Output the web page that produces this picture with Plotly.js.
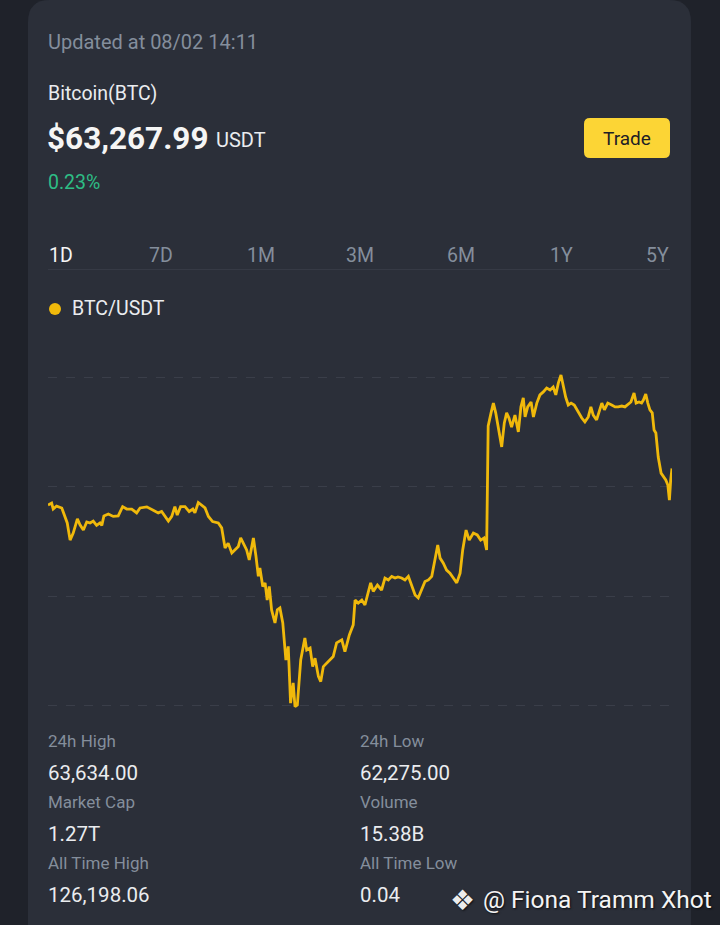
<!DOCTYPE html>
<html>
<head>
<meta charset="utf-8">
<script src="https://cdn.plot.ly/plotly-3.0.1.min.js"></script>
<style>
  html, body { margin: 0; padding: 0; background: #1f222a; }
  #chart { width: 720px; height: 925px; }
</style>
</head>
<body>
<div id="chart"></div>
<script>
// BTC/USDT price over the last 24 hours (hours since the window start)
const hours = [
  0,0.14,0.2,0.33,0.53,0.65,0.74,0.85,0.97,1.13,
  1.23,1.36,1.49,1.62,1.74,1.87,2.0,2.07,2.15,2.32,
  2.51,2.7,2.87,3.03,3.22,3.41,3.54,3.8,4.05,4.24,
  4.37,4.5,4.63,4.76,4.88,4.97,5.1,5.27,5.43,5.57,
  5.65,5.78,5.91,6.04,6.17,6.33,6.55,6.68,6.81,6.93,
  7.07,7.19,7.32,7.41,7.54,7.64,7.74,7.81,7.9,8.0,
  8.09,8.15,8.26,8.35,8.43,8.51,8.6,8.73,8.82,8.92,
  9.03,9.15,9.24,9.33,9.43,9.5,9.59,9.72,9.88,9.95,
  10.08,10.18,10.27,10.4,10.49,10.59,10.78,10.97,11.1,11.3,
  11.42,11.59,11.74,11.81,11.93,12.07,12.19,12.32,12.41,12.51,
  12.67,12.83,12.96,13.09,13.22,13.35,13.46,13.6,13.73,13.86,
  13.99,14.12,14.24,14.37,14.5,14.63,14.76,14.88,14.99,15.08,
  15.2,15.33,15.46,15.59,15.72,15.85,15.95,16.08,16.2,16.36,
  16.51,16.64,16.77,16.87,16.93,17.04,17.13,17.22,17.32,17.45,
  17.55,17.64,17.73,17.83,17.96,18.09,18.19,18.28,18.35,18.45,
  18.58,18.67,18.8,18.92,19.05,19.18,19.31,19.43,19.53,19.63,
  19.73,19.82,19.91,20.01,20.12,20.24,20.37,20.53,20.65,20.78,
  20.88,20.97,21.1,21.19,21.3,21.4,21.53,21.68,21.81,21.93,
  22.07,22.19,22.32,22.42,22.54,22.62,22.73,22.83,22.9,22.99,
  23.07,23.15,23.24,23.31,23.38,23.47,23.58,23.67,23.76,23.84,
  23.9,23.95,24.0
];
const prices = [
  63134,63141,63119,63130,63123,63094,63068,63005,63031,63083,
  63061,63042,63072,63068,63075,63059,63068,63059,63094,63101,
  63092,63094,63128,63119,63119,63105,63123,63127,63116,63105,
  63110,63092,63075,63092,63128,63097,63128,63128,63110,63119,
  63105,63143,63134,63123,63092,63073,63068,63050,62976,62994,
  62958,62969,62982,63013,62987,62969,62932,62969,63013,62945,
  62872,62903,62835,62848,62785,62835,62749,62701,62749,62756,
  62701,62565,62615,62407,62481,62394,62400,62565,62646,62602,
  62609,62541,62572,62505,62486,62541,62560,62578,62628,62639,
  62596,62657,62694,62785,62774,62785,62767,62822,62848,62817,
  62840,62822,62866,62859,62872,62866,62870,62866,62859,62872,
  62835,62804,62793,62822,62853,62859,62872,62932,62987,62939,
  62921,62895,62884,62866,62848,62884,62969,63042,63005,63031,
  63024,63005,63013,62969,63424,63472,63508,63472,63420,63347,
  63435,63472,63453,63420,63464,63402,63494,63527,63457,63494,
  63512,63457,63508,63538,63549,63563,63556,63567,63538,63582,
  63611,63567,63530,63501,63508,63501,63479,63453,63439,63457,
  63494,63464,63446,63472,63508,63483,63508,63501,63494,63494,
  63497,63494,63505,63512,63545,63508,63512,63508,63519,63541,
  63508,63483,63472,63409,63398,63310,63251,63237,63226,63207,
  63152,63226,63267.99
];

const pairName = 'BTC/USDT';
const coinName = 'Bitcoin(BTC)';
const lastPrice = '$63,267.99';
const quoteUnit = 'USDT';
const changePct = '0.23%';
const updatedAt = 'Updated at 08/02 14:11';
const tabs = ['1D', '7D', '1M', '3M', '6M', '1Y', '5Y'];
const statLabels = ['24h High', '24h Low', 'Market Cap', 'Volume', 'All Time High', 'All Time Low'];
const statValues = ['63,634.00', '62,275.00', '1.27T', '15.38B', '126,198.06', '0.04'];
const gridLevels = [62400, 62800, 63200, 63600];

// page geometry helpers (pixel -> paper fraction)
const W = 720, H = 925;
const px = x => x / W;
const py = y => 1 - y / H;

function roundedPath(x0, y0, x1, y1, r) {
  const P = (x, y) => px(x).toFixed(5) + ',' + py(y).toFixed(5);
  return 'M' + P(x0 + r, y0) + ' L' + P(x1 - r, y0) +
    ' Q' + P(x1, y0) + ' ' + P(x1, y0 + r) +
    ' L' + P(x1, y1 - r) + ' Q' + P(x1, y1) + ' ' + P(x1 - r, y1) +
    ' L' + P(x0 + r, y1) + ' Q' + P(x0, y1) + ' ' + P(x0, y1 - r) +
    ' L' + P(x0, y0 + r) + ' Q' + P(x0, y0) + ' ' + P(x0 + r, y0) + ' Z';
}

const FONT = 'Roboto, "Noto Sans", sans-serif';
const GREY = '#848e9c';
const WHITE = '#eaecef';
const YELLOW = '#f0b90b';

const shapes = [
  // card
  { type: 'path', xref: 'paper', yref: 'paper', path: roundedPath(28, 0, 691, 960, 22),
    fillcolor: '#2b2f39', line: { width: 0 }, layer: 'below' },
  // trade button
  { type: 'path', xref: 'paper', yref: 'paper', path: roundedPath(584, 118, 670, 158, 6),
    fillcolor: '#fcd535', line: { width: 0 } },
  // divider under the range tabs
  { type: 'line', xref: 'paper', yref: 'paper', x0: px(48), x1: px(670), y0: py(269.5), y1: py(269.5),
    line: { color: '#363a45', width: 1 } },
  // legend dot
  { type: 'circle', xref: 'paper', yref: 'paper', x0: px(49), x1: px(61), y0: py(315), y1: py(303),
    fillcolor: YELLOW, line: { width: 0 } }
];

const ann = [];
function text(t, x, y, size, color, opts) {
  ann.push(Object.assign({
    text: t, x: px(x), y: py(y), xref: 'paper', yref: 'paper', showarrow: false,
    xanchor: 'left', yanchor: 'middle', borderpad: 0,
    font: { family: FONT, size: size, color: color }
  }, opts || {}));
}

text(updatedAt, 47, 42, 20, GREY);
text(coinName, 47, 94, 19.5, WHITE);
text('<b>' + lastPrice + '</b>', 46, 138, 31.5, '#f5f5f5');
text(quoteUnit, 215, 140, 20, WHITE);
text(changePct, 47, 182, 19.5, '#2ebd85');
text('Trade', 627, 138, 19, '#1e2026', { xanchor: 'center' });

// range tabs
const tabCenters = [61, 161, 261, 360, 461, 561, 657];
tabs.forEach((t, i) => {
  text(t, tabCenters[i], 255, 19.5, i === 0 ? '#f5f5f5' : GREY, { xanchor: 'center' });
});

text(pairName, 71, 309, 19.5, WHITE);

// stats grid
const colX = [47, 359];
const rowY = [[741, 773], [802, 834], [863, 895]];
statLabels.forEach((lab, i) => {
  const c = i % 2, r = Math.floor(i / 2);
  text(lab, colX[c], rowY[r][0], 17, GREY);
  text(statValues[i], colX[c], rowY[r][1], 20.5, WHITE);
});

// footer watermark
const shadow = '1px 1px 2px rgba(0,0,0,0.7)';
ann.push({ text: '\u2756', x: px(449), y: py(900), xref: 'paper', yref: 'paper', showarrow: false,
  xanchor: 'left', yanchor: 'middle', borderpad: 0,
  font: { family: '"DejaVu Sans", sans-serif', size: 28, color: '#ececec', shadow: shadow } });
ann.push({ text: '@ Fiona Tramm Xhot', x: px(482), y: py(899), xref: 'paper', yref: 'paper', showarrow: false,
  xanchor: 'left', yanchor: 'middle', borderpad: 0,
  font: { family: FONT, size: 24.5, color: '#f4f4f4', shadow: shadow } });

const trace = {
  x: hours, y: prices, type: 'scatter', mode: 'lines',
  line: { color: YELLOW, width: 2.8 },
  hoverinfo: 'skip', showlegend: false
};

const layout = {
  width: W, height: H,
  margin: { l: 0, r: 0, t: 0, b: 0, pad: 0 },
  paper_bgcolor: '#1f222a',
  plot_bgcolor: 'rgba(0,0,0,0)',
  showlegend: false,
  xaxis: {
    domain: [px(48), px(672)], range: [0, 24],
    showgrid: false, zeroline: false, showticklabels: false, ticks: '', showline: false
  },
  yaxis: {
    domain: [py(715), py(340)], range: [62363.3, 63739.4],
    tickmode: 'array', tickvals: gridLevels,
    showgrid: true, gridcolor: '#3a3e49', gridwidth: 1, griddash: 'dash',
    zeroline: false, showticklabels: false, ticks: '', showline: false
  },
  shapes: shapes,
  annotations: ann
};

Plotly.newPlot('chart', [trace], layout, { staticPlot: true, displayModeBar: false });
</script>
</body>
</html>
